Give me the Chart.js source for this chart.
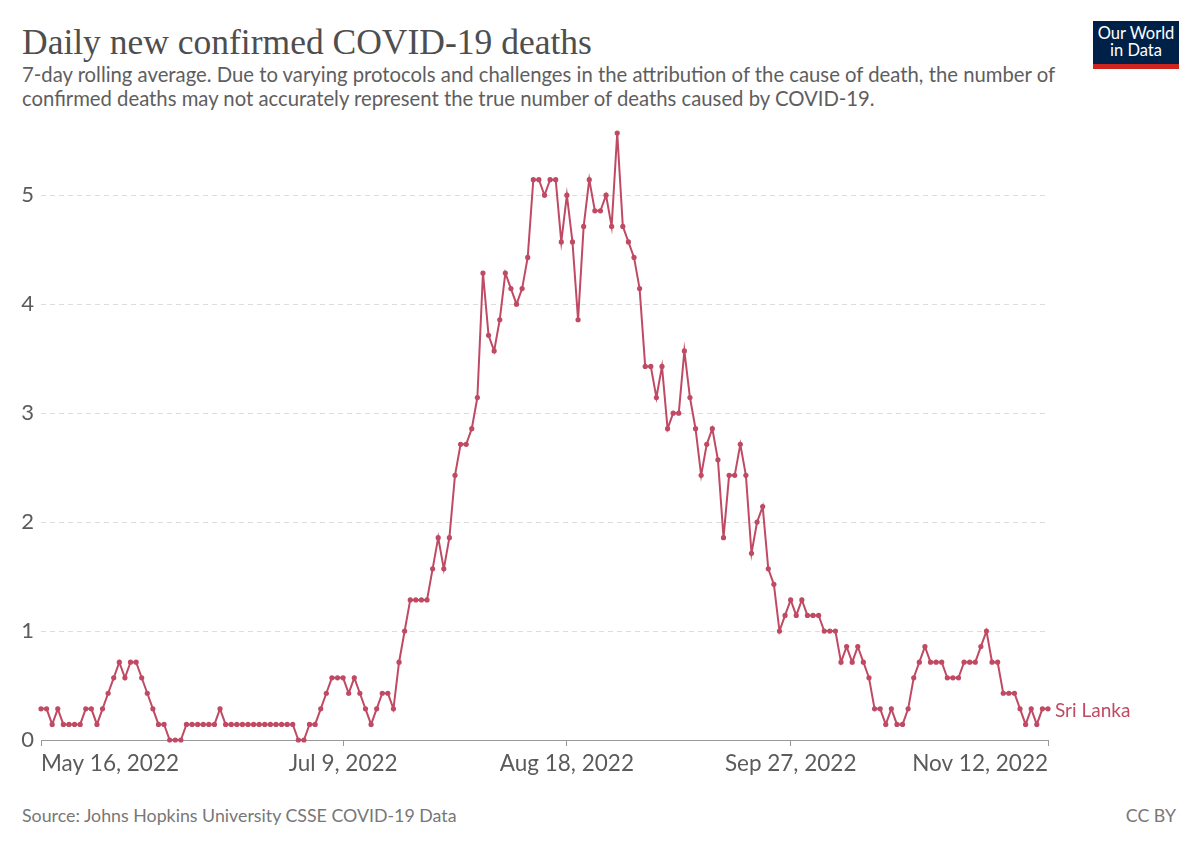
<!DOCTYPE html>
<html>
<head>
<meta charset="utf-8">
<title>Daily new confirmed COVID-19 deaths</title>
<script src="https://cdn.jsdelivr.net/npm/chart.js@4.4.0/dist/chart.umd.min.js"></script>
<style>
  body { margin: 0; background: #fff; width: 1200px; height: 847px; position: relative; overflow: hidden; font-family: Lato, sans-serif; }
  #title { position: absolute; left: 22px; top: 25px; font-family: "Liberation Serif", serif; font-size: 35.5px; line-height: 1; color: #4e4e4e; white-space: nowrap; }
  .sub { position: absolute; left: 22px; font-size: 20.3px; line-height: 24px; color: #5e5e5e; white-space: nowrap; }
  #logo { position: absolute; left: 1093px; top: 21px; width: 86px; background: #002147; border-bottom: 5px solid #ce261e; color: #fff; text-align: center; font-size: 16.5px; line-height: 17px; padding-top: 4px; height: 39px; }
  #wrap { position: absolute; left: 0; top: 110px; width: 1200px; height: 680px; }
  .foot { position: absolute; top: 804px; font-size: 17.8px; color: #777; white-space: nowrap; }
</style>
</head>
<body>
<div id="title">Daily new confirmed COVID-19 deaths</div>
<div class="sub" style="top:62px">7-day rolling average. Due to varying protocols and challenges in the attribution of the cause of death, the number of</div>
<div class="sub" style="top:86px">confirmed deaths may not accurately represent the true number of deaths caused by COVID-19.</div>
<div id="logo">Our World<br>in Data</div>
<div id="wrap"><canvas id="chart"></canvas></div>
<div class="foot" style="left:22px">Source: Johns Hopkins University CSSE COVID-19 Data</div>
<div class="foot" style="right:24px">CC BY</div>
<script>
// 7-day rolling average of daily deaths, Sri Lanka, one value per day from May 16, 2022
const may = [0.286, 0.286, 0.143, 0.286, 0.143, 0.143, 0.143, 0.143, 0.286, 0.286, 0.143, 0.286, 0.429, 0.571, 0.714, 0.571];
const june = [0.714, 0.714, 0.571, 0.429, 0.286, 0.143, 0.143, 0, 0, 0, 0.143, 0.143, 0.143, 0.143, 0.143, 0.143, 0.286, 0.143,
  0.143, 0.143, 0.143, 0.143, 0.143, 0.143, 0.143, 0.143, 0.143, 0.143, 0.143, 0.143];
const july = [0, 0, 0.143, 0.143, 0.286, 0.429, 0.571, 0.571, 0.571, 0.429, 0.571, 0.429, 0.286, 0.143, 0.286, 0.429,
  0.429, 0.286, 0.714, 1, 1.286, 1.286, 1.286, 1.286, 1.571, 1.857, 1.571, 1.857, 2.429, 2.714, 2.714];
const august = [2.857, 3.143, 4.286, 3.714, 3.571, 3.857, 4.286, 4.143, 4, 4.143, 4.429, 5.143, 5.143, 5, 5.143, 5.143,
  4.571, 5, 4.571, 3.857, 4.714, 5.143, 4.857, 4.857, 5, 4.714, 5.571, 4.714, 4.571, 4.429, 4.143];
const september = [3.429, 3.429, 3.143, 3.429, 2.857, 3, 3, 3.571, 3.143, 2.857, 2.429, 2.714, 2.857, 2.571, 1.857,
  2.429, 2.429, 2.714, 2.429, 1.714, 2, 2.143, 1.571, 1.429, 1, 1.143, 1.286, 1.143, 1.286, 1.143];
const october = [1.143, 1.143, 1, 1, 1, 0.714, 0.857, 0.714, 0.857, 0.714, 0.571, 0.286, 0.286, 0.143, 0.286, 0.143,
  0.143, 0.286, 0.571, 0.714, 0.857, 0.714, 0.714, 0.714, 0.571, 0.571, 0.571, 0.714, 0.714, 0.714, 0.857];
const november = [1, 0.714, 0.714, 0.429, 0.429, 0.429, 0.286, 0.143, 0.286, 0.143, 0.286, 0.286];

const deaths = [].concat(may, june, july, august, september, october, november);

// x ticks: day offsets from May 16, 2022 and their labels
const tickDays = [0, 54, 94, 134, 180];
const tickLabels = ['May 16, 2022', 'Jul 9, 2022', 'Aug 18, 2022', 'Sep 27, 2022', 'Nov 12, 2022'];
const yTicks = [0, 1, 2, 3, 4, 5];
const country = 'Sri Lanka';
const lineColor = '#c04a64';

// Label the line at its last point
const endLabel = {
  id: 'endLabel',
  afterDatasetsDraw(chart) {
    const pts = chart.getDatasetMeta(0).data;
    const last = pts[pts.length - 1];
    const ctx = chart.ctx;
    ctx.save();
    ctx.font = '19px Lato';
    ctx.fillStyle = lineColor;
    ctx.textBaseline = 'middle';
    ctx.fillText(country, last.x + 7, last.y + 2);
    ctx.restore();
  }
};

new Chart(document.getElementById('chart'), {
  type: 'line',
  data: {
    datasets: [{
      label: country,
      data: deaths.map((v, i) => ({ x: i, y: v })),
      borderColor: lineColor,
      backgroundColor: lineColor,
      borderWidth: 2,
      pointRadius: 2.6,
      pointHoverRadius: 2.6,
      pointBorderWidth: 0,
      tension: 0,
      clip: 8
    }]
  },
  options: {
    responsive: true,
    maintainAspectRatio: false,
    animation: false,
    layout: { padding: { top: 23, right: 152, bottom: 10, left: 0 } },
    plugins: { legend: { display: false }, tooltip: { enabled: false } },
    scales: {
      x: {
        type: 'linear',
        min: 0,
        max: deaths.length - 1,
        afterBuildTicks: s => { s.ticks = tickDays.map(v => ({ value: v })); },
        afterFit: s => { s.height = 40; },
        grid: { drawOnChartArea: false, drawTicks: true, tickLength: 6, color: '#999' },
        border: { display: true, color: '#999', width: 1 },
        ticks: {
          align: 'inner',
          autoSkip: false,
          maxRotation: 0,
          padding: 4,
          color: '#5b5b5b',
          font: { family: 'Lato', size: 22.5 },
          callback: (v, i) => tickLabels[i]
        }
      },
      y: {
        min: 0,
        max: Math.max(...deaths),
        afterBuildTicks: s => { s.ticks = yTicks.map(v => ({ value: v })); },
        afterFit: s => { s.width = 41; },
        grid: { color: '#dddddd', drawTicks: false },
        border: { display: false, dash: [5, 4] },
        ticks: {
          padding: 7,
          color: '#5b5b5b',
          font: { family: 'Lato', size: 22 }
        }
      }
    }
  },
  plugins: [endLabel]
});
</script>
</body>
</html>
